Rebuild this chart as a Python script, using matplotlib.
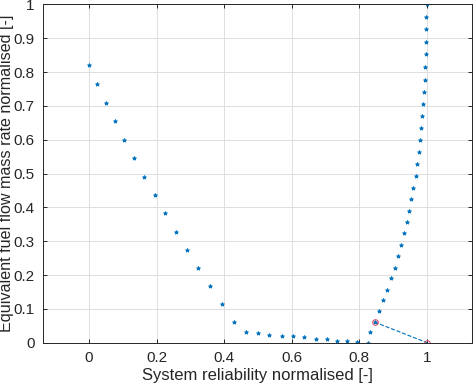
import matplotlib
matplotlib.use('Agg')
import matplotlib.pyplot as plt

# pareto front points
reliability = [0.0, 0.024, 0.05, 0.077, 0.104, 0.132, 0.162, 0.194, 0.225, 0.257,
               0.290, 0.324, 0.359, 0.393, 0.428, 0.464, 0.499, 0.534, 0.570, 0.603,
               0.637, 0.672, 0.703, 0.734, 0.763, 0.792, 0.824,
               0.831, 0.845, 0.858, 0.870, 0.882, 0.894, 0.904, 0.914, 0.924, 0.931,
               0.940, 0.948, 0.954, 0.960, 0.967, 0.970, 0.976, 0.980, 0.982, 0.986,
               0.988, 0.991, 0.993, 0.995, 0.996, 0.997, 0.998, 0.998, 1.0]
fuel_flow = [0.821, 0.766, 0.710, 0.656, 0.600, 0.546, 0.490, 0.436, 0.382, 0.328,
             0.274, 0.220, 0.167, 0.115, 0.061, 0.032, 0.029, 0.024, 0.021, 0.019,
             0.016, 0.011, 0.010, 0.006, 0.004, 0.002, 0.0,
             0.031, 0.061, 0.093, 0.127, 0.157, 0.191, 0.222, 0.255, 0.289, 0.323,
             0.356, 0.390, 0.424, 0.458, 0.493, 0.528, 0.563, 0.599, 0.634, 0.670,
             0.705, 0.742, 0.777, 0.814, 0.853, 0.890, 0.926, 0.964, 1.0]

chosen = (0.845, 0.061)
utopia = (1.0, 0.0)

xticks = [0, 0.2, 0.4, 0.6, 0.8, 1]
yticks = [0, 0.1, 0.2, 0.3, 0.4, 0.5, 0.6, 0.7, 0.8, 0.9, 1]

blue = '#0072BD'
red = '#D9536F'

plt.rcParams['font.family'] = 'Liberation Sans'

fig = plt.figure(figsize=(4.74, 3.87), dpi=100)
ax = fig.add_axes([0.0907, 0.1145, 0.905, 0.874])

ax.plot(reliability, fuel_flow, linestyle='none', marker='*', markersize=3,
        markeredgewidth=0.6, color=blue)
ax.plot([chosen[0], utopia[0]], [chosen[1], utopia[1]], '--', color=blue, linewidth=0.8)
ax.plot(chosen[0], chosen[1], 'o', markersize=4, markerfacecolor='none',
        markeredgecolor=red, markeredgewidth=0.8)
ax.plot(utopia[0], utopia[1], 'o', markersize=4, markerfacecolor='none',
        markeredgecolor=red, markeredgewidth=0.8)

ax.set_xlim(-0.136, 1.133)
ax.set_ylim(0, 1)
ax.set_xticks(xticks)
ax.set_xticklabels(['0', '0.2', '0.4', '0.6', '0.8', '1'])
ax.set_yticks(yticks)
ax.set_yticklabels(['0', '0.1', '0.2', '0.3', '0.4', '0.5', '0.6', '0.7', '0.8', '0.9', '1'])
ax.grid(True, color='#dfdfdf', linewidth=0.7)
ax.set_axisbelow(True)
ax.tick_params(direction='in', top=True, right=True, length=3, width=0.7,
               labelsize=11, colors='#262626', pad=6)
for s in ax.spines.values():
    s.set_color('#262626')
    s.set_linewidth(0.7)

ax.set_xlabel('System reliability normalised [-]', fontsize=12, color='#262626', labelpad=2)
ax.set_ylabel('Equivalent fuel flow mass rate normalised [-]', fontsize=11.6, color='#262626', labelpad=0)

fig.savefig('out.png', dpi=100)
